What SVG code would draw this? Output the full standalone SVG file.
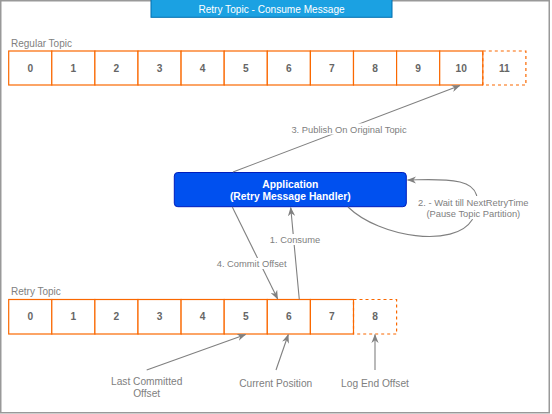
<svg xmlns="http://www.w3.org/2000/svg" width="552" height="414" viewBox="0 0 552 414">
<defs>
<marker id="arr" viewBox="0 0 10 8" markerWidth="9" markerHeight="7.2" refX="9.5" refY="4" orient="auto" markerUnits="userSpaceOnUse">
<path d="M0,0 L10,4 L0,8 L3,4 Z" fill="#808080"/>
</marker>
<style>
.cell{fill:#ffffff;stroke:#FA6800;stroke-width:1.2}
.dash{fill:none;stroke:#FA6800;stroke-width:1.2;stroke-dasharray:3 3}
.num{font-family:"Liberation Sans",Arial,sans-serif;font-size:10.2px;font-weight:bold;fill:#666666;text-anchor:middle}
.lbl{font-family:"Liberation Sans",Arial,sans-serif;font-size:9.35px;fill:#808080;text-anchor:middle}
.note{font-family:"Liberation Sans",Arial,sans-serif;font-size:10.2px;fill:#808080;text-anchor:middle}
.sec{font-family:"Liberation Sans",Arial,sans-serif;font-size:10px;fill:#808080}
.edge{fill:none;stroke:#808080;stroke-width:1.1;marker-end:url(#arr)}
.bg{fill:#ffffff}
</style>
</defs>
<rect x="0.75" y="0.75" width="548.5" height="412" fill="#ffffff" stroke="#999999" stroke-width="1.5"/>

<g id="title">
<rect x="151" y="-1" width="241" height="18.3" fill="#1BA1E2" stroke="#006EAF" stroke-width="1"/>
<text x="271.5" y="12.6" font-family="Liberation Sans, Arial, sans-serif" font-size="10.1" fill="#ffffff" text-anchor="middle">Retry Topic - Consume Message</text>
</g>

<g id="regular-topic">
<text class="sec" x="11" y="46.5">Regular Topic</text>
<rect class="cell" x="8.7" y="51" width="43.1" height="34"/><text class="num" x="30.25" y="71.6">0</text>
<rect class="cell" x="51.8" y="51" width="43.1" height="34"/><text class="num" x="73.35" y="71.6">1</text>
<rect class="cell" x="94.9" y="51" width="43.1" height="34"/><text class="num" x="116.45" y="71.6">2</text>
<rect class="cell" x="138" y="51" width="43.1" height="34"/><text class="num" x="159.55" y="71.6">3</text>
<rect class="cell" x="181.1" y="51" width="43.1" height="34"/><text class="num" x="202.65" y="71.6">4</text>
<rect class="cell" x="224.2" y="51" width="43.1" height="34"/><text class="num" x="245.75" y="71.6">5</text>
<rect class="cell" x="267.3" y="51" width="43.1" height="34"/><text class="num" x="288.85" y="71.6">6</text>
<rect class="cell" x="310.4" y="51" width="43.1" height="34"/><text class="num" x="331.95" y="71.6">7</text>
<rect class="cell" x="353.5" y="51" width="43.1" height="34"/><text class="num" x="375.05" y="71.6">8</text>
<rect class="cell" x="396.6" y="51" width="43.1" height="34"/><text class="num" x="418.15" y="71.6">9</text>
<rect class="cell" x="439.7" y="51" width="43.1" height="34"/><text class="num" x="461.25" y="71.6">10</text>
<rect class="dash" x="482.8" y="51" width="43.1" height="34"/><text class="num" x="504.35" y="71.6">11</text>
</g>

<g id="retry-topic">
<text class="sec" x="11" y="295">Retry Topic</text>
<rect class="cell" x="8.7" y="299.5" width="43.1" height="34.5"/><text class="num" x="30.25" y="320.3">0</text>
<rect class="cell" x="51.8" y="299.5" width="43.1" height="34.5"/><text class="num" x="73.35" y="320.3">1</text>
<rect class="cell" x="94.9" y="299.5" width="43.1" height="34.5"/><text class="num" x="116.45" y="320.3">2</text>
<rect class="cell" x="138" y="299.5" width="43.1" height="34.5"/><text class="num" x="159.55" y="320.3">3</text>
<rect class="cell" x="181.1" y="299.5" width="43.1" height="34.5"/><text class="num" x="202.65" y="320.3">4</text>
<rect class="cell" x="224.2" y="299.5" width="43.1" height="34.5"/><text class="num" x="245.75" y="320.3">5</text>
<rect class="cell" x="267.3" y="299.5" width="43.1" height="34.5"/><text class="num" x="288.85" y="320.3">6</text>
<rect class="cell" x="310.4" y="299.5" width="43.1" height="34.5"/><text class="num" x="331.95" y="320.3">7</text>
<rect class="dash" x="353.5" y="299.5" width="43.1" height="34.5"/><text class="num" x="375.05" y="320.3">8</text>
</g>

<g id="application">
<rect x="174.3" y="172.5" width="232" height="34.2" rx="3.5" fill="#0050EF" stroke="#001DBC" stroke-width="1"/>
<text x="290.3" y="187.7" font-family="Liberation Sans, Arial, sans-serif" font-size="10.3" font-weight="bold" fill="#ffffff" text-anchor="middle">Application</text>
<text x="290.3" y="200" font-family="Liberation Sans, Arial, sans-serif" font-size="10.3" font-weight="bold" fill="#ffffff" text-anchor="middle">(Retry Message Handler)</text>
</g>

<g id="connectors">
<path class="edge" d="M233,172 L460,85.5"/>
<rect class="bg" x="289" y="123.5" width="120" height="11"/>
<text class="lbl" x="349" y="132.6">3. Publish On Original Topic</text>

<path class="edge" d="M348,207 C380,238 455,248 472,220 C482,200 478,186 460,182 C440,178 420,180 407.5,180"/>
<rect class="bg" x="416" y="196" width="115" height="23"/>
<text class="lbl" x="473.3" y="206">2. - Wait till NextRetryTime</text>
<text class="lbl" x="473.3" y="216.6">(Pause Topic Partition)</text>

<path class="edge" d="M299.3,299.5 L290.7,207.5"/>
<rect class="bg" x="269" y="234" width="52" height="11"/>
<text class="lbl" x="295" y="242.6">1. Consume</text>

<path class="edge" d="M232.3,207 L277.7,299"/>
<rect class="bg" x="215" y="258" width="73" height="11"/>
<text class="lbl" x="251.7" y="266.6">4. Commit Offset</text>

<path class="edge" d="M146.7,370 L245.7,334.5"/>
<path class="edge" d="M276,370 L288.3,334.5"/>
<path class="edge" d="M375,370 L375,334.5"/>
</g>

<g id="annotations">
<text class="note" x="146.7" y="385.3">Last Committed</text>
<text class="note" x="146.7" y="397">Offset</text>
<text class="note" x="275.7" y="387">Current Position</text>
<text class="note" x="375" y="387">Log End Offset</text>
</g>
</svg>
